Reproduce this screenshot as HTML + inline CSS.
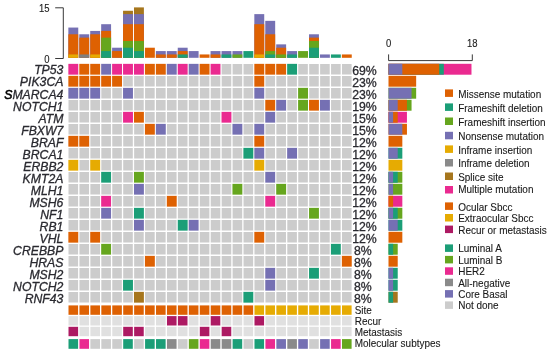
<!DOCTYPE html>
<html><head><meta charset="utf-8"><title>Oncoprint</title>
<style>
html,body{margin:0;padding:0;background:#fff;}
body{width:550px;height:355px;overflow:hidden;}
svg{display:block;}
text{font-family:"Liberation Sans",Arial,Helvetica,sans-serif;fill:#1a1a1a;}
.g{font-style:italic;font-size:12.25px;text-anchor:end;fill:#2a2a30;stroke:#2a2a30;stroke-width:0.3px;}
.p{font-size:12.3px;fill:#2a2a30;stroke:#2a2a30;stroke-width:0.3px;}
.a{font-size:9.97px;stroke:#1a1a1a;stroke-width:0.1px;}
.l{font-size:9.96px;stroke:#1a1a1a;stroke-width:0.1px;}
.t{font-size:9.5px;stroke:#1a1a1a;stroke-width:0.1px;}
</style></head>
<body>
<svg width="550" height="355" viewBox="0 0 550 355">
<rect width="550" height="355" fill="#fff"/>
<g fill="#CCCCCC">
<rect x="221.66" y="64.00" width="9.60" height="10.50"/><rect x="232.60" y="64.00" width="9.60" height="10.50"/><rect x="243.54" y="64.00" width="9.60" height="10.50"/><rect x="298.24" y="64.00" width="9.60" height="10.50"/><rect x="309.18" y="64.00" width="9.60" height="10.50"/><rect x="320.12" y="64.00" width="9.60" height="10.50"/><rect x="331.06" y="64.00" width="9.60" height="10.50"/><rect x="342.00" y="64.00" width="9.60" height="10.50"/>
<rect x="123.20" y="76.00" width="9.60" height="10.50"/><rect x="134.14" y="76.00" width="9.60" height="10.50"/><rect x="145.08" y="76.00" width="9.60" height="10.50"/><rect x="156.02" y="76.00" width="9.60" height="10.50"/><rect x="166.96" y="76.00" width="9.60" height="10.50"/><rect x="177.90" y="76.00" width="9.60" height="10.50"/><rect x="188.84" y="76.00" width="9.60" height="10.50"/><rect x="199.78" y="76.00" width="9.60" height="10.50"/><rect x="210.72" y="76.00" width="9.60" height="10.50"/><rect x="221.66" y="76.00" width="9.60" height="10.50"/><rect x="232.60" y="76.00" width="9.60" height="10.50"/><rect x="243.54" y="76.00" width="9.60" height="10.50"/><rect x="265.42" y="76.00" width="9.60" height="10.50"/><rect x="276.36" y="76.00" width="9.60" height="10.50"/><rect x="287.30" y="76.00" width="9.60" height="10.50"/><rect x="298.24" y="76.00" width="9.60" height="10.50"/><rect x="309.18" y="76.00" width="9.60" height="10.50"/><rect x="320.12" y="76.00" width="9.60" height="10.50"/><rect x="331.06" y="76.00" width="9.60" height="10.50"/><rect x="342.00" y="76.00" width="9.60" height="10.50"/>
<rect x="101.32" y="88.00" width="9.60" height="10.50"/><rect x="112.26" y="88.00" width="9.60" height="10.50"/><rect x="134.14" y="88.00" width="9.60" height="10.50"/><rect x="145.08" y="88.00" width="9.60" height="10.50"/><rect x="156.02" y="88.00" width="9.60" height="10.50"/><rect x="166.96" y="88.00" width="9.60" height="10.50"/><rect x="177.90" y="88.00" width="9.60" height="10.50"/><rect x="188.84" y="88.00" width="9.60" height="10.50"/><rect x="199.78" y="88.00" width="9.60" height="10.50"/><rect x="210.72" y="88.00" width="9.60" height="10.50"/><rect x="221.66" y="88.00" width="9.60" height="10.50"/><rect x="232.60" y="88.00" width="9.60" height="10.50"/><rect x="243.54" y="88.00" width="9.60" height="10.50"/><rect x="265.42" y="88.00" width="9.60" height="10.50"/><rect x="276.36" y="88.00" width="9.60" height="10.50"/><rect x="287.30" y="88.00" width="9.60" height="10.50"/><rect x="309.18" y="88.00" width="9.60" height="10.50"/><rect x="320.12" y="88.00" width="9.60" height="10.50"/><rect x="331.06" y="88.00" width="9.60" height="10.50"/><rect x="342.00" y="88.00" width="9.60" height="10.50"/>
<rect x="68.50" y="100.00" width="9.60" height="10.50"/><rect x="79.44" y="100.00" width="9.60" height="10.50"/><rect x="90.38" y="100.00" width="9.60" height="10.50"/><rect x="101.32" y="100.00" width="9.60" height="10.50"/><rect x="112.26" y="100.00" width="9.60" height="10.50"/><rect x="123.20" y="100.00" width="9.60" height="10.50"/><rect x="134.14" y="100.00" width="9.60" height="10.50"/><rect x="145.08" y="100.00" width="9.60" height="10.50"/><rect x="156.02" y="100.00" width="9.60" height="10.50"/><rect x="166.96" y="100.00" width="9.60" height="10.50"/><rect x="177.90" y="100.00" width="9.60" height="10.50"/><rect x="188.84" y="100.00" width="9.60" height="10.50"/><rect x="199.78" y="100.00" width="9.60" height="10.50"/><rect x="210.72" y="100.00" width="9.60" height="10.50"/><rect x="221.66" y="100.00" width="9.60" height="10.50"/><rect x="232.60" y="100.00" width="9.60" height="10.50"/><rect x="243.54" y="100.00" width="9.60" height="10.50"/><rect x="254.48" y="100.00" width="9.60" height="10.50"/><rect x="287.30" y="100.00" width="9.60" height="10.50"/><rect x="331.06" y="100.00" width="9.60" height="10.50"/><rect x="342.00" y="100.00" width="9.60" height="10.50"/>
<rect x="68.50" y="112.00" width="9.60" height="10.50"/><rect x="79.44" y="112.00" width="9.60" height="10.50"/><rect x="90.38" y="112.00" width="9.60" height="10.50"/><rect x="101.32" y="112.00" width="9.60" height="10.50"/><rect x="112.26" y="112.00" width="9.60" height="10.50"/><rect x="145.08" y="112.00" width="9.60" height="10.50"/><rect x="156.02" y="112.00" width="9.60" height="10.50"/><rect x="166.96" y="112.00" width="9.60" height="10.50"/><rect x="177.90" y="112.00" width="9.60" height="10.50"/><rect x="188.84" y="112.00" width="9.60" height="10.50"/><rect x="199.78" y="112.00" width="9.60" height="10.50"/><rect x="210.72" y="112.00" width="9.60" height="10.50"/><rect x="232.60" y="112.00" width="9.60" height="10.50"/><rect x="243.54" y="112.00" width="9.60" height="10.50"/><rect x="254.48" y="112.00" width="9.60" height="10.50"/><rect x="276.36" y="112.00" width="9.60" height="10.50"/><rect x="287.30" y="112.00" width="9.60" height="10.50"/><rect x="298.24" y="112.00" width="9.60" height="10.50"/><rect x="309.18" y="112.00" width="9.60" height="10.50"/><rect x="320.12" y="112.00" width="9.60" height="10.50"/><rect x="331.06" y="112.00" width="9.60" height="10.50"/><rect x="342.00" y="112.00" width="9.60" height="10.50"/>
<rect x="68.50" y="124.00" width="9.60" height="10.50"/><rect x="79.44" y="124.00" width="9.60" height="10.50"/><rect x="90.38" y="124.00" width="9.60" height="10.50"/><rect x="101.32" y="124.00" width="9.60" height="10.50"/><rect x="112.26" y="124.00" width="9.60" height="10.50"/><rect x="123.20" y="124.00" width="9.60" height="10.50"/><rect x="134.14" y="124.00" width="9.60" height="10.50"/><rect x="166.96" y="124.00" width="9.60" height="10.50"/><rect x="177.90" y="124.00" width="9.60" height="10.50"/><rect x="188.84" y="124.00" width="9.60" height="10.50"/><rect x="199.78" y="124.00" width="9.60" height="10.50"/><rect x="210.72" y="124.00" width="9.60" height="10.50"/><rect x="221.66" y="124.00" width="9.60" height="10.50"/><rect x="243.54" y="124.00" width="9.60" height="10.50"/><rect x="265.42" y="124.00" width="9.60" height="10.50"/><rect x="276.36" y="124.00" width="9.60" height="10.50"/><rect x="287.30" y="124.00" width="9.60" height="10.50"/><rect x="298.24" y="124.00" width="9.60" height="10.50"/><rect x="309.18" y="124.00" width="9.60" height="10.50"/><rect x="320.12" y="124.00" width="9.60" height="10.50"/><rect x="331.06" y="124.00" width="9.60" height="10.50"/><rect x="342.00" y="124.00" width="9.60" height="10.50"/>
<rect x="90.38" y="136.00" width="9.60" height="10.50"/><rect x="101.32" y="136.00" width="9.60" height="10.50"/><rect x="112.26" y="136.00" width="9.60" height="10.50"/><rect x="123.20" y="136.00" width="9.60" height="10.50"/><rect x="134.14" y="136.00" width="9.60" height="10.50"/><rect x="145.08" y="136.00" width="9.60" height="10.50"/><rect x="156.02" y="136.00" width="9.60" height="10.50"/><rect x="166.96" y="136.00" width="9.60" height="10.50"/><rect x="177.90" y="136.00" width="9.60" height="10.50"/><rect x="188.84" y="136.00" width="9.60" height="10.50"/><rect x="199.78" y="136.00" width="9.60" height="10.50"/><rect x="210.72" y="136.00" width="9.60" height="10.50"/><rect x="221.66" y="136.00" width="9.60" height="10.50"/><rect x="232.60" y="136.00" width="9.60" height="10.50"/><rect x="243.54" y="136.00" width="9.60" height="10.50"/><rect x="265.42" y="136.00" width="9.60" height="10.50"/><rect x="276.36" y="136.00" width="9.60" height="10.50"/><rect x="287.30" y="136.00" width="9.60" height="10.50"/><rect x="298.24" y="136.00" width="9.60" height="10.50"/><rect x="309.18" y="136.00" width="9.60" height="10.50"/><rect x="320.12" y="136.00" width="9.60" height="10.50"/><rect x="331.06" y="136.00" width="9.60" height="10.50"/><rect x="342.00" y="136.00" width="9.60" height="10.50"/>
<rect x="68.50" y="148.00" width="9.60" height="10.50"/><rect x="79.44" y="148.00" width="9.60" height="10.50"/><rect x="90.38" y="148.00" width="9.60" height="10.50"/><rect x="101.32" y="148.00" width="9.60" height="10.50"/><rect x="112.26" y="148.00" width="9.60" height="10.50"/><rect x="123.20" y="148.00" width="9.60" height="10.50"/><rect x="134.14" y="148.00" width="9.60" height="10.50"/><rect x="145.08" y="148.00" width="9.60" height="10.50"/><rect x="156.02" y="148.00" width="9.60" height="10.50"/><rect x="166.96" y="148.00" width="9.60" height="10.50"/><rect x="177.90" y="148.00" width="9.60" height="10.50"/><rect x="188.84" y="148.00" width="9.60" height="10.50"/><rect x="199.78" y="148.00" width="9.60" height="10.50"/><rect x="210.72" y="148.00" width="9.60" height="10.50"/><rect x="221.66" y="148.00" width="9.60" height="10.50"/><rect x="232.60" y="148.00" width="9.60" height="10.50"/><rect x="265.42" y="148.00" width="9.60" height="10.50"/><rect x="276.36" y="148.00" width="9.60" height="10.50"/><rect x="298.24" y="148.00" width="9.60" height="10.50"/><rect x="309.18" y="148.00" width="9.60" height="10.50"/><rect x="320.12" y="148.00" width="9.60" height="10.50"/><rect x="331.06" y="148.00" width="9.60" height="10.50"/><rect x="342.00" y="148.00" width="9.60" height="10.50"/>
<rect x="79.44" y="160.00" width="9.60" height="10.50"/><rect x="101.32" y="160.00" width="9.60" height="10.50"/><rect x="112.26" y="160.00" width="9.60" height="10.50"/><rect x="123.20" y="160.00" width="9.60" height="10.50"/><rect x="134.14" y="160.00" width="9.60" height="10.50"/><rect x="145.08" y="160.00" width="9.60" height="10.50"/><rect x="156.02" y="160.00" width="9.60" height="10.50"/><rect x="166.96" y="160.00" width="9.60" height="10.50"/><rect x="177.90" y="160.00" width="9.60" height="10.50"/><rect x="188.84" y="160.00" width="9.60" height="10.50"/><rect x="199.78" y="160.00" width="9.60" height="10.50"/><rect x="210.72" y="160.00" width="9.60" height="10.50"/><rect x="221.66" y="160.00" width="9.60" height="10.50"/><rect x="232.60" y="160.00" width="9.60" height="10.50"/><rect x="243.54" y="160.00" width="9.60" height="10.50"/><rect x="265.42" y="160.00" width="9.60" height="10.50"/><rect x="276.36" y="160.00" width="9.60" height="10.50"/><rect x="287.30" y="160.00" width="9.60" height="10.50"/><rect x="298.24" y="160.00" width="9.60" height="10.50"/><rect x="309.18" y="160.00" width="9.60" height="10.50"/><rect x="320.12" y="160.00" width="9.60" height="10.50"/><rect x="331.06" y="160.00" width="9.60" height="10.50"/><rect x="342.00" y="160.00" width="9.60" height="10.50"/>
<rect x="68.50" y="172.00" width="9.60" height="10.50"/><rect x="79.44" y="172.00" width="9.60" height="10.50"/><rect x="90.38" y="172.00" width="9.60" height="10.50"/><rect x="112.26" y="172.00" width="9.60" height="10.50"/><rect x="123.20" y="172.00" width="9.60" height="10.50"/><rect x="145.08" y="172.00" width="9.60" height="10.50"/><rect x="156.02" y="172.00" width="9.60" height="10.50"/><rect x="166.96" y="172.00" width="9.60" height="10.50"/><rect x="177.90" y="172.00" width="9.60" height="10.50"/><rect x="188.84" y="172.00" width="9.60" height="10.50"/><rect x="199.78" y="172.00" width="9.60" height="10.50"/><rect x="210.72" y="172.00" width="9.60" height="10.50"/><rect x="221.66" y="172.00" width="9.60" height="10.50"/><rect x="232.60" y="172.00" width="9.60" height="10.50"/><rect x="243.54" y="172.00" width="9.60" height="10.50"/><rect x="254.48" y="172.00" width="9.60" height="10.50"/><rect x="276.36" y="172.00" width="9.60" height="10.50"/><rect x="287.30" y="172.00" width="9.60" height="10.50"/><rect x="298.24" y="172.00" width="9.60" height="10.50"/><rect x="309.18" y="172.00" width="9.60" height="10.50"/><rect x="320.12" y="172.00" width="9.60" height="10.50"/><rect x="331.06" y="172.00" width="9.60" height="10.50"/><rect x="342.00" y="172.00" width="9.60" height="10.50"/>
<rect x="68.50" y="184.00" width="9.60" height="10.50"/><rect x="79.44" y="184.00" width="9.60" height="10.50"/><rect x="90.38" y="184.00" width="9.60" height="10.50"/><rect x="101.32" y="184.00" width="9.60" height="10.50"/><rect x="112.26" y="184.00" width="9.60" height="10.50"/><rect x="123.20" y="184.00" width="9.60" height="10.50"/><rect x="145.08" y="184.00" width="9.60" height="10.50"/><rect x="156.02" y="184.00" width="9.60" height="10.50"/><rect x="166.96" y="184.00" width="9.60" height="10.50"/><rect x="177.90" y="184.00" width="9.60" height="10.50"/><rect x="188.84" y="184.00" width="9.60" height="10.50"/><rect x="199.78" y="184.00" width="9.60" height="10.50"/><rect x="210.72" y="184.00" width="9.60" height="10.50"/><rect x="221.66" y="184.00" width="9.60" height="10.50"/><rect x="243.54" y="184.00" width="9.60" height="10.50"/><rect x="254.48" y="184.00" width="9.60" height="10.50"/><rect x="265.42" y="184.00" width="9.60" height="10.50"/><rect x="287.30" y="184.00" width="9.60" height="10.50"/><rect x="298.24" y="184.00" width="9.60" height="10.50"/><rect x="309.18" y="184.00" width="9.60" height="10.50"/><rect x="320.12" y="184.00" width="9.60" height="10.50"/><rect x="331.06" y="184.00" width="9.60" height="10.50"/><rect x="342.00" y="184.00" width="9.60" height="10.50"/>
<rect x="68.50" y="196.00" width="9.60" height="10.50"/><rect x="79.44" y="196.00" width="9.60" height="10.50"/><rect x="90.38" y="196.00" width="9.60" height="10.50"/><rect x="112.26" y="196.00" width="9.60" height="10.50"/><rect x="123.20" y="196.00" width="9.60" height="10.50"/><rect x="134.14" y="196.00" width="9.60" height="10.50"/><rect x="145.08" y="196.00" width="9.60" height="10.50"/><rect x="156.02" y="196.00" width="9.60" height="10.50"/><rect x="177.90" y="196.00" width="9.60" height="10.50"/><rect x="188.84" y="196.00" width="9.60" height="10.50"/><rect x="199.78" y="196.00" width="9.60" height="10.50"/><rect x="210.72" y="196.00" width="9.60" height="10.50"/><rect x="221.66" y="196.00" width="9.60" height="10.50"/><rect x="232.60" y="196.00" width="9.60" height="10.50"/><rect x="243.54" y="196.00" width="9.60" height="10.50"/><rect x="254.48" y="196.00" width="9.60" height="10.50"/><rect x="276.36" y="196.00" width="9.60" height="10.50"/><rect x="287.30" y="196.00" width="9.60" height="10.50"/><rect x="298.24" y="196.00" width="9.60" height="10.50"/><rect x="309.18" y="196.00" width="9.60" height="10.50"/><rect x="320.12" y="196.00" width="9.60" height="10.50"/><rect x="331.06" y="196.00" width="9.60" height="10.50"/><rect x="342.00" y="196.00" width="9.60" height="10.50"/>
<rect x="68.50" y="208.00" width="9.60" height="10.50"/><rect x="79.44" y="208.00" width="9.60" height="10.50"/><rect x="90.38" y="208.00" width="9.60" height="10.50"/><rect x="112.26" y="208.00" width="9.60" height="10.50"/><rect x="123.20" y="208.00" width="9.60" height="10.50"/><rect x="145.08" y="208.00" width="9.60" height="10.50"/><rect x="156.02" y="208.00" width="9.60" height="10.50"/><rect x="166.96" y="208.00" width="9.60" height="10.50"/><rect x="177.90" y="208.00" width="9.60" height="10.50"/><rect x="188.84" y="208.00" width="9.60" height="10.50"/><rect x="199.78" y="208.00" width="9.60" height="10.50"/><rect x="210.72" y="208.00" width="9.60" height="10.50"/><rect x="221.66" y="208.00" width="9.60" height="10.50"/><rect x="232.60" y="208.00" width="9.60" height="10.50"/><rect x="243.54" y="208.00" width="9.60" height="10.50"/><rect x="254.48" y="208.00" width="9.60" height="10.50"/><rect x="265.42" y="208.00" width="9.60" height="10.50"/><rect x="276.36" y="208.00" width="9.60" height="10.50"/><rect x="287.30" y="208.00" width="9.60" height="10.50"/><rect x="298.24" y="208.00" width="9.60" height="10.50"/><rect x="320.12" y="208.00" width="9.60" height="10.50"/><rect x="331.06" y="208.00" width="9.60" height="10.50"/><rect x="342.00" y="208.00" width="9.60" height="10.50"/>
<rect x="68.50" y="220.00" width="9.60" height="10.50"/><rect x="79.44" y="220.00" width="9.60" height="10.50"/><rect x="90.38" y="220.00" width="9.60" height="10.50"/><rect x="101.32" y="220.00" width="9.60" height="10.50"/><rect x="112.26" y="220.00" width="9.60" height="10.50"/><rect x="123.20" y="220.00" width="9.60" height="10.50"/><rect x="145.08" y="220.00" width="9.60" height="10.50"/><rect x="156.02" y="220.00" width="9.60" height="10.50"/><rect x="166.96" y="220.00" width="9.60" height="10.50"/><rect x="199.78" y="220.00" width="9.60" height="10.50"/><rect x="210.72" y="220.00" width="9.60" height="10.50"/><rect x="221.66" y="220.00" width="9.60" height="10.50"/><rect x="232.60" y="220.00" width="9.60" height="10.50"/><rect x="243.54" y="220.00" width="9.60" height="10.50"/><rect x="254.48" y="220.00" width="9.60" height="10.50"/><rect x="265.42" y="220.00" width="9.60" height="10.50"/><rect x="276.36" y="220.00" width="9.60" height="10.50"/><rect x="287.30" y="220.00" width="9.60" height="10.50"/><rect x="298.24" y="220.00" width="9.60" height="10.50"/><rect x="309.18" y="220.00" width="9.60" height="10.50"/><rect x="320.12" y="220.00" width="9.60" height="10.50"/><rect x="331.06" y="220.00" width="9.60" height="10.50"/><rect x="342.00" y="220.00" width="9.60" height="10.50"/>
<rect x="79.44" y="232.00" width="9.60" height="10.50"/><rect x="101.32" y="232.00" width="9.60" height="10.50"/><rect x="112.26" y="232.00" width="9.60" height="10.50"/><rect x="123.20" y="232.00" width="9.60" height="10.50"/><rect x="134.14" y="232.00" width="9.60" height="10.50"/><rect x="145.08" y="232.00" width="9.60" height="10.50"/><rect x="156.02" y="232.00" width="9.60" height="10.50"/><rect x="166.96" y="232.00" width="9.60" height="10.50"/><rect x="177.90" y="232.00" width="9.60" height="10.50"/><rect x="188.84" y="232.00" width="9.60" height="10.50"/><rect x="199.78" y="232.00" width="9.60" height="10.50"/><rect x="210.72" y="232.00" width="9.60" height="10.50"/><rect x="221.66" y="232.00" width="9.60" height="10.50"/><rect x="232.60" y="232.00" width="9.60" height="10.50"/><rect x="243.54" y="232.00" width="9.60" height="10.50"/><rect x="265.42" y="232.00" width="9.60" height="10.50"/><rect x="276.36" y="232.00" width="9.60" height="10.50"/><rect x="287.30" y="232.00" width="9.60" height="10.50"/><rect x="298.24" y="232.00" width="9.60" height="10.50"/><rect x="309.18" y="232.00" width="9.60" height="10.50"/><rect x="320.12" y="232.00" width="9.60" height="10.50"/><rect x="331.06" y="232.00" width="9.60" height="10.50"/><rect x="342.00" y="232.00" width="9.60" height="10.50"/>
<rect x="68.50" y="244.00" width="9.60" height="10.50"/><rect x="79.44" y="244.00" width="9.60" height="10.50"/><rect x="90.38" y="244.00" width="9.60" height="10.50"/><rect x="112.26" y="244.00" width="9.60" height="10.50"/><rect x="123.20" y="244.00" width="9.60" height="10.50"/><rect x="134.14" y="244.00" width="9.60" height="10.50"/><rect x="145.08" y="244.00" width="9.60" height="10.50"/><rect x="156.02" y="244.00" width="9.60" height="10.50"/><rect x="166.96" y="244.00" width="9.60" height="10.50"/><rect x="177.90" y="244.00" width="9.60" height="10.50"/><rect x="188.84" y="244.00" width="9.60" height="10.50"/><rect x="199.78" y="244.00" width="9.60" height="10.50"/><rect x="210.72" y="244.00" width="9.60" height="10.50"/><rect x="221.66" y="244.00" width="9.60" height="10.50"/><rect x="232.60" y="244.00" width="9.60" height="10.50"/><rect x="243.54" y="244.00" width="9.60" height="10.50"/><rect x="254.48" y="244.00" width="9.60" height="10.50"/><rect x="265.42" y="244.00" width="9.60" height="10.50"/><rect x="276.36" y="244.00" width="9.60" height="10.50"/><rect x="287.30" y="244.00" width="9.60" height="10.50"/><rect x="298.24" y="244.00" width="9.60" height="10.50"/><rect x="309.18" y="244.00" width="9.60" height="10.50"/><rect x="320.12" y="244.00" width="9.60" height="10.50"/><rect x="342.00" y="244.00" width="9.60" height="10.50"/>
<rect x="68.50" y="256.00" width="9.60" height="10.50"/><rect x="79.44" y="256.00" width="9.60" height="10.50"/><rect x="90.38" y="256.00" width="9.60" height="10.50"/><rect x="101.32" y="256.00" width="9.60" height="10.50"/><rect x="112.26" y="256.00" width="9.60" height="10.50"/><rect x="123.20" y="256.00" width="9.60" height="10.50"/><rect x="134.14" y="256.00" width="9.60" height="10.50"/><rect x="156.02" y="256.00" width="9.60" height="10.50"/><rect x="166.96" y="256.00" width="9.60" height="10.50"/><rect x="177.90" y="256.00" width="9.60" height="10.50"/><rect x="188.84" y="256.00" width="9.60" height="10.50"/><rect x="199.78" y="256.00" width="9.60" height="10.50"/><rect x="210.72" y="256.00" width="9.60" height="10.50"/><rect x="221.66" y="256.00" width="9.60" height="10.50"/><rect x="232.60" y="256.00" width="9.60" height="10.50"/><rect x="243.54" y="256.00" width="9.60" height="10.50"/><rect x="254.48" y="256.00" width="9.60" height="10.50"/><rect x="265.42" y="256.00" width="9.60" height="10.50"/><rect x="276.36" y="256.00" width="9.60" height="10.50"/><rect x="287.30" y="256.00" width="9.60" height="10.50"/><rect x="298.24" y="256.00" width="9.60" height="10.50"/><rect x="309.18" y="256.00" width="9.60" height="10.50"/><rect x="320.12" y="256.00" width="9.60" height="10.50"/><rect x="331.06" y="256.00" width="9.60" height="10.50"/>
<rect x="68.50" y="268.00" width="9.60" height="10.50"/><rect x="79.44" y="268.00" width="9.60" height="10.50"/><rect x="90.38" y="268.00" width="9.60" height="10.50"/><rect x="101.32" y="268.00" width="9.60" height="10.50"/><rect x="112.26" y="268.00" width="9.60" height="10.50"/><rect x="123.20" y="268.00" width="9.60" height="10.50"/><rect x="134.14" y="268.00" width="9.60" height="10.50"/><rect x="145.08" y="268.00" width="9.60" height="10.50"/><rect x="156.02" y="268.00" width="9.60" height="10.50"/><rect x="166.96" y="268.00" width="9.60" height="10.50"/><rect x="177.90" y="268.00" width="9.60" height="10.50"/><rect x="188.84" y="268.00" width="9.60" height="10.50"/><rect x="199.78" y="268.00" width="9.60" height="10.50"/><rect x="210.72" y="268.00" width="9.60" height="10.50"/><rect x="221.66" y="268.00" width="9.60" height="10.50"/><rect x="232.60" y="268.00" width="9.60" height="10.50"/><rect x="243.54" y="268.00" width="9.60" height="10.50"/><rect x="254.48" y="268.00" width="9.60" height="10.50"/><rect x="276.36" y="268.00" width="9.60" height="10.50"/><rect x="287.30" y="268.00" width="9.60" height="10.50"/><rect x="298.24" y="268.00" width="9.60" height="10.50"/><rect x="320.12" y="268.00" width="9.60" height="10.50"/><rect x="331.06" y="268.00" width="9.60" height="10.50"/><rect x="342.00" y="268.00" width="9.60" height="10.50"/>
<rect x="68.50" y="280.00" width="9.60" height="10.50"/><rect x="79.44" y="280.00" width="9.60" height="10.50"/><rect x="90.38" y="280.00" width="9.60" height="10.50"/><rect x="101.32" y="280.00" width="9.60" height="10.50"/><rect x="112.26" y="280.00" width="9.60" height="10.50"/><rect x="134.14" y="280.00" width="9.60" height="10.50"/><rect x="145.08" y="280.00" width="9.60" height="10.50"/><rect x="156.02" y="280.00" width="9.60" height="10.50"/><rect x="166.96" y="280.00" width="9.60" height="10.50"/><rect x="177.90" y="280.00" width="9.60" height="10.50"/><rect x="188.84" y="280.00" width="9.60" height="10.50"/><rect x="199.78" y="280.00" width="9.60" height="10.50"/><rect x="210.72" y="280.00" width="9.60" height="10.50"/><rect x="221.66" y="280.00" width="9.60" height="10.50"/><rect x="232.60" y="280.00" width="9.60" height="10.50"/><rect x="243.54" y="280.00" width="9.60" height="10.50"/><rect x="254.48" y="280.00" width="9.60" height="10.50"/><rect x="276.36" y="280.00" width="9.60" height="10.50"/><rect x="287.30" y="280.00" width="9.60" height="10.50"/><rect x="298.24" y="280.00" width="9.60" height="10.50"/><rect x="309.18" y="280.00" width="9.60" height="10.50"/><rect x="320.12" y="280.00" width="9.60" height="10.50"/><rect x="331.06" y="280.00" width="9.60" height="10.50"/><rect x="342.00" y="280.00" width="9.60" height="10.50"/>
<rect x="68.50" y="292.00" width="9.60" height="10.50"/><rect x="79.44" y="292.00" width="9.60" height="10.50"/><rect x="90.38" y="292.00" width="9.60" height="10.50"/><rect x="101.32" y="292.00" width="9.60" height="10.50"/><rect x="112.26" y="292.00" width="9.60" height="10.50"/><rect x="123.20" y="292.00" width="9.60" height="10.50"/><rect x="145.08" y="292.00" width="9.60" height="10.50"/><rect x="156.02" y="292.00" width="9.60" height="10.50"/><rect x="166.96" y="292.00" width="9.60" height="10.50"/><rect x="177.90" y="292.00" width="9.60" height="10.50"/><rect x="188.84" y="292.00" width="9.60" height="10.50"/><rect x="199.78" y="292.00" width="9.60" height="10.50"/><rect x="210.72" y="292.00" width="9.60" height="10.50"/><rect x="221.66" y="292.00" width="9.60" height="10.50"/><rect x="232.60" y="292.00" width="9.60" height="10.50"/><rect x="254.48" y="292.00" width="9.60" height="10.50"/><rect x="265.42" y="292.00" width="9.60" height="10.50"/><rect x="276.36" y="292.00" width="9.60" height="10.50"/><rect x="287.30" y="292.00" width="9.60" height="10.50"/><rect x="298.24" y="292.00" width="9.60" height="10.50"/><rect x="309.18" y="292.00" width="9.60" height="10.50"/><rect x="320.12" y="292.00" width="9.60" height="10.50"/><rect x="331.06" y="292.00" width="9.60" height="10.50"/><rect x="342.00" y="292.00" width="9.60" height="10.50"/>
</g>
<rect x="68.35" y="63.85" width="9.90" height="10.80" fill="#EA2A90"/><rect x="79.29" y="63.85" width="9.90" height="10.80" fill="#DE6102"/><rect x="90.23" y="63.85" width="9.90" height="10.80" fill="#DE6102"/><rect x="101.17" y="63.85" width="9.90" height="10.80" fill="#7570B3"/><rect x="112.11" y="63.85" width="9.90" height="10.80" fill="#EA2A90"/><rect x="123.05" y="63.85" width="9.90" height="10.80" fill="#EA2A90"/><rect x="133.99" y="63.85" width="9.90" height="10.80" fill="#EA2A90"/><rect x="144.93" y="63.85" width="9.90" height="10.80" fill="#DE6102"/><rect x="155.87" y="63.85" width="9.90" height="10.80" fill="#DE6102"/><rect x="166.81" y="63.85" width="9.90" height="10.80" fill="#7570B3"/><rect x="177.75" y="63.85" width="9.90" height="10.80" fill="#EA2A90"/><rect x="188.69" y="63.85" width="9.90" height="10.80" fill="#7570B3"/><rect x="199.63" y="63.85" width="9.90" height="10.80" fill="#DE6102"/><rect x="210.57" y="63.85" width="9.90" height="10.80" fill="#EA2A90"/><rect x="254.33" y="63.85" width="9.90" height="10.80" fill="#DE6102"/><rect x="265.27" y="63.85" width="9.90" height="10.80" fill="#DE6102"/><rect x="276.21" y="63.85" width="9.90" height="10.80" fill="#DE6102"/><rect x="287.15" y="63.85" width="9.90" height="10.80" fill="#1B9E77"/>
<rect x="68.35" y="75.85" width="9.90" height="10.80" fill="#DE6102"/><rect x="79.29" y="75.85" width="9.90" height="10.80" fill="#DE6102"/><rect x="90.23" y="75.85" width="9.90" height="10.80" fill="#DE6102"/><rect x="101.17" y="75.85" width="9.90" height="10.80" fill="#DE6102"/><rect x="112.11" y="75.85" width="9.90" height="10.80" fill="#DE6102"/><rect x="254.33" y="75.85" width="9.90" height="10.80" fill="#DE6102"/>
<rect x="68.35" y="87.85" width="9.90" height="10.80" fill="#7570B3"/><rect x="79.29" y="87.85" width="9.90" height="10.80" fill="#7570B3"/><rect x="90.23" y="87.85" width="9.90" height="10.80" fill="#7570B3"/><rect x="123.05" y="87.85" width="9.90" height="10.80" fill="#7570B3"/><rect x="254.33" y="87.85" width="9.90" height="10.80" fill="#7570B3"/><rect x="298.09" y="87.85" width="9.90" height="10.80" fill="#66A61E"/>
<rect x="265.27" y="99.85" width="9.90" height="10.80" fill="#DE6102"/><rect x="276.21" y="99.85" width="9.90" height="10.80" fill="#7570B3"/><rect x="298.09" y="99.85" width="9.90" height="10.80" fill="#66A61E"/><rect x="309.03" y="99.85" width="9.90" height="10.80" fill="#DE6102"/><rect x="319.97" y="99.85" width="9.90" height="10.80" fill="#7570B3"/>
<rect x="123.05" y="111.85" width="9.90" height="10.80" fill="#EA2A90"/><rect x="133.99" y="111.85" width="9.90" height="10.80" fill="#DE6102"/><rect x="221.51" y="111.85" width="9.90" height="10.80" fill="#EA2A90"/><rect x="265.27" y="111.85" width="9.90" height="10.80" fill="#7570B3"/>
<rect x="144.93" y="123.85" width="9.90" height="10.80" fill="#DE6102"/><rect x="155.87" y="123.85" width="9.90" height="10.80" fill="#7570B3"/><rect x="232.45" y="123.85" width="9.90" height="10.80" fill="#7570B3"/><rect x="254.33" y="123.85" width="9.90" height="10.80" fill="#7570B3"/>
<rect x="68.35" y="135.85" width="9.90" height="10.80" fill="#DE6102"/><rect x="79.29" y="135.85" width="9.90" height="10.80" fill="#DE6102"/><rect x="254.33" y="135.85" width="9.90" height="10.80" fill="#DE6102"/>
<rect x="243.39" y="147.85" width="9.90" height="10.80" fill="#1B9E77"/><rect x="254.33" y="147.85" width="9.90" height="10.80" fill="#7570B3"/><rect x="287.15" y="147.85" width="9.90" height="10.80" fill="#7570B3"/>
<rect x="68.35" y="159.85" width="9.90" height="10.80" fill="#E6AB02"/><rect x="90.23" y="159.85" width="9.90" height="10.80" fill="#E6AB02"/><rect x="254.33" y="159.85" width="9.90" height="10.80" fill="#E6AB02"/>
<rect x="101.17" y="171.85" width="9.90" height="10.80" fill="#1B9E77"/><rect x="133.99" y="171.85" width="9.90" height="10.80" fill="#66A61E"/><rect x="265.27" y="171.85" width="9.90" height="10.80" fill="#7570B3"/>
<rect x="133.99" y="183.85" width="9.90" height="10.80" fill="#7570B3"/><rect x="232.45" y="183.85" width="9.90" height="10.80" fill="#66A61E"/><rect x="276.21" y="183.85" width="9.90" height="10.80" fill="#66A61E"/>
<rect x="101.17" y="195.85" width="9.90" height="10.80" fill="#EA2A90"/><rect x="166.81" y="195.85" width="9.90" height="10.80" fill="#DE6102"/><rect x="265.27" y="195.85" width="9.90" height="10.80" fill="#EA2A90"/>
<rect x="101.17" y="207.85" width="9.90" height="10.80" fill="#7570B3"/><rect x="133.99" y="207.85" width="9.90" height="10.80" fill="#1B9E77"/><rect x="309.03" y="207.85" width="9.90" height="10.80" fill="#66A61E"/>
<rect x="133.99" y="219.85" width="9.90" height="10.80" fill="#7570B3"/><rect x="177.75" y="219.85" width="9.90" height="10.80" fill="#1B9E77"/><rect x="188.69" y="219.85" width="9.90" height="10.80" fill="#7570B3"/>
<rect x="68.35" y="231.85" width="9.90" height="10.80" fill="#DE6102"/><rect x="90.23" y="231.85" width="9.90" height="10.80" fill="#DE6102"/><rect x="254.33" y="231.85" width="9.90" height="10.80" fill="#DE6102"/>
<rect x="101.17" y="243.85" width="9.90" height="10.80" fill="#66A61E"/><rect x="330.91" y="243.85" width="9.90" height="10.80" fill="#1B9E77"/>
<rect x="144.93" y="255.85" width="9.90" height="10.80" fill="#DE6102"/><rect x="341.85" y="255.85" width="9.90" height="10.80" fill="#DE6102"/>
<rect x="265.27" y="267.85" width="9.90" height="10.80" fill="#7570B3"/><rect x="309.03" y="267.85" width="9.90" height="10.80" fill="#1B9E77"/>
<rect x="123.05" y="279.85" width="9.90" height="10.80" fill="#1B9E77"/><rect x="265.27" y="279.85" width="9.90" height="10.80" fill="#7570B3"/>
<rect x="133.99" y="291.85" width="9.90" height="10.80" fill="#A6761D"/><rect x="243.39" y="291.85" width="9.90" height="10.80" fill="#1B9E77"/>
<rect x="68.35" y="27.56" width="9.90" height="30.24" fill="#7570B3"/><rect x="68.35" y="34.28" width="9.90" height="23.52" fill="#DE6102"/><rect x="68.35" y="54.44" width="9.90" height="3.36" fill="#E6AB02"/>
<rect x="79.29" y="34.28" width="9.90" height="23.52" fill="#7570B3"/><rect x="79.29" y="37.64" width="9.90" height="20.16" fill="#DE6102"/><rect x="79.29" y="54.44" width="9.90" height="3.36" fill="#7f7f7f"/>
<rect x="90.23" y="30.92" width="9.90" height="26.88" fill="#7570B3"/><rect x="90.23" y="34.28" width="9.90" height="23.52" fill="#DE6102"/><rect x="90.23" y="54.44" width="9.90" height="3.36" fill="#E6AB02"/>
<rect x="101.17" y="24.20" width="9.90" height="33.60" fill="#7570B3"/><rect x="101.17" y="30.92" width="9.90" height="26.88" fill="#DE6102"/><rect x="101.17" y="37.64" width="9.90" height="20.16" fill="#66A61E"/><rect x="101.17" y="51.08" width="9.90" height="6.72" fill="#1B9E77"/>
<rect x="112.11" y="47.72" width="9.90" height="10.08" fill="#7570B3"/><rect x="112.11" y="51.08" width="9.90" height="6.72" fill="#DE6102"/>
<rect x="123.05" y="10.76" width="9.90" height="47.04" fill="#A6761D"/><rect x="123.05" y="14.12" width="9.90" height="43.68" fill="#7570B3"/><rect x="123.05" y="24.20" width="9.90" height="33.60" fill="#DE6102"/><rect x="123.05" y="41.00" width="9.90" height="16.80" fill="#66A61E"/><rect x="123.05" y="47.72" width="9.90" height="10.08" fill="#1B9E77"/>
<rect x="133.99" y="7.40" width="9.90" height="50.40" fill="#A6761D"/><rect x="133.99" y="14.12" width="9.90" height="43.68" fill="#7570B3"/><rect x="133.99" y="24.20" width="9.90" height="33.60" fill="#DE6102"/><rect x="133.99" y="41.00" width="9.90" height="16.80" fill="#66A61E"/><rect x="133.99" y="51.08" width="9.90" height="6.72" fill="#1B9E77"/>
<rect x="144.93" y="47.72" width="9.90" height="10.08" fill="#DE6102"/>
<rect x="155.87" y="51.08" width="9.90" height="6.72" fill="#7570B3"/><rect x="155.87" y="54.44" width="9.90" height="3.36" fill="#DE6102"/>
<rect x="166.81" y="51.08" width="9.90" height="6.72" fill="#7570B3"/><rect x="166.81" y="54.44" width="9.90" height="3.36" fill="#DE6102"/>
<rect x="177.75" y="47.72" width="9.90" height="10.08" fill="#7570B3"/><rect x="177.75" y="51.08" width="9.90" height="6.72" fill="#DE6102"/><rect x="177.75" y="54.44" width="9.90" height="3.36" fill="#1B9E77"/>
<rect x="188.69" y="51.08" width="9.90" height="6.72" fill="#7570B3"/>
<rect x="199.63" y="54.44" width="9.90" height="3.36" fill="#DE6102"/>
<rect x="210.57" y="51.08" width="9.90" height="6.72" fill="#7570B3"/><rect x="210.57" y="54.44" width="9.90" height="3.36" fill="#DE6102"/>
<rect x="221.51" y="51.08" width="9.90" height="6.72" fill="#7570B3"/><rect x="221.51" y="54.44" width="9.90" height="3.36" fill="#1B9E77"/>
<rect x="232.45" y="51.08" width="9.90" height="6.72" fill="#7570B3"/><rect x="232.45" y="54.44" width="9.90" height="3.36" fill="#66A61E"/>
<rect x="243.39" y="51.08" width="9.90" height="6.72" fill="#1B9E77"/>
<rect x="254.33" y="14.12" width="9.90" height="43.68" fill="#7570B3"/><rect x="254.33" y="24.20" width="9.90" height="33.60" fill="#DE6102"/><rect x="254.33" y="54.44" width="9.90" height="3.36" fill="#E6AB02"/>
<rect x="265.27" y="20.84" width="9.90" height="36.96" fill="#7570B3"/><rect x="265.27" y="34.28" width="9.90" height="23.52" fill="#DE6102"/><rect x="265.27" y="51.08" width="9.90" height="6.72" fill="#66A61E"/><rect x="265.27" y="54.44" width="9.90" height="3.36" fill="#1B9E77"/>
<rect x="276.21" y="44.36" width="9.90" height="13.44" fill="#7570B3"/><rect x="276.21" y="47.72" width="9.90" height="10.08" fill="#DE6102"/><rect x="276.21" y="54.44" width="9.90" height="3.36" fill="#66A61E"/>
<rect x="287.15" y="51.08" width="9.90" height="6.72" fill="#7570B3"/><rect x="287.15" y="54.44" width="9.90" height="3.36" fill="#1B9E77"/>
<rect x="298.09" y="51.08" width="9.90" height="6.72" fill="#66A61E"/>
<rect x="309.03" y="34.28" width="9.90" height="23.52" fill="#7570B3"/><rect x="309.03" y="37.64" width="9.90" height="20.16" fill="#DE6102"/><rect x="309.03" y="41.00" width="9.90" height="16.80" fill="#66A61E"/><rect x="309.03" y="47.72" width="9.90" height="10.08" fill="#1B9E77"/>
<rect x="319.97" y="54.44" width="9.90" height="3.36" fill="#7570B3"/>
<rect x="330.91" y="54.44" width="9.90" height="3.36" fill="#1B9E77"/>
<rect x="341.85" y="54.44" width="9.90" height="3.36" fill="#DE6102"/>
<path d="M55.2 7.8H63.3V58.5H55.2" fill="none" stroke="#222" stroke-width="0.9"/>
<text class="t" transform="translate(49.6,12.2) scale(1,1.22)" text-anchor="end">15</text>
<text class="t" transform="translate(49.6,62.9) scale(1,1.22)" text-anchor="end">0</text>
<rect x="68.50" y="305.40" width="9.60" height="9.40" fill="#DE6102"/><rect x="68.50" y="316.10" width="9.60" height="9.40" fill="#E0E0E0"/><rect x="68.50" y="326.80" width="9.60" height="9.40" fill="#AD1A63"/><rect x="68.50" y="339.10" width="9.60" height="9.70" fill="#1B9E77"/>
<rect x="79.44" y="305.40" width="9.60" height="9.40" fill="#DE6102"/><rect x="79.44" y="316.10" width="9.60" height="9.40" fill="#E0E0E0"/><rect x="79.44" y="326.80" width="9.60" height="9.40" fill="#E0E0E0"/><rect x="79.44" y="339.10" width="9.60" height="9.70" fill="#EA2A90"/>
<rect x="90.38" y="305.40" width="9.60" height="9.40" fill="#DE6102"/><rect x="90.38" y="316.10" width="9.60" height="9.40" fill="#E0E0E0"/><rect x="90.38" y="326.80" width="9.60" height="9.40" fill="#E0E0E0"/><rect x="90.38" y="339.10" width="9.60" height="9.70" fill="#CCCCCC"/>
<rect x="101.32" y="305.40" width="9.60" height="9.40" fill="#DE6102"/><rect x="101.32" y="316.10" width="9.60" height="9.40" fill="#E0E0E0"/><rect x="101.32" y="326.80" width="9.60" height="9.40" fill="#E0E0E0"/><rect x="101.32" y="339.10" width="9.60" height="9.70" fill="#CCCCCC"/>
<rect x="112.26" y="305.40" width="9.60" height="9.40" fill="#DE6102"/><rect x="112.26" y="316.10" width="9.60" height="9.40" fill="#E0E0E0"/><rect x="112.26" y="326.80" width="9.60" height="9.40" fill="#E0E0E0"/><rect x="112.26" y="339.10" width="9.60" height="9.70" fill="#CCCCCC"/>
<rect x="123.20" y="305.40" width="9.60" height="9.40" fill="#DE6102"/><rect x="123.20" y="316.10" width="9.60" height="9.40" fill="#E0E0E0"/><rect x="123.20" y="326.80" width="9.60" height="9.40" fill="#AD1A63"/><rect x="123.20" y="339.10" width="9.60" height="9.70" fill="#1B9E77"/>
<rect x="134.14" y="305.40" width="9.60" height="9.40" fill="#DE6102"/><rect x="134.14" y="316.10" width="9.60" height="9.40" fill="#E0E0E0"/><rect x="134.14" y="326.80" width="9.60" height="9.40" fill="#AD1A63"/><rect x="134.14" y="339.10" width="9.60" height="9.70" fill="#CCCCCC"/>
<rect x="145.08" y="305.40" width="9.60" height="9.40" fill="#DE6102"/><rect x="145.08" y="316.10" width="9.60" height="9.40" fill="#E0E0E0"/><rect x="145.08" y="326.80" width="9.60" height="9.40" fill="#E0E0E0"/><rect x="145.08" y="339.10" width="9.60" height="9.70" fill="#1B9E77"/>
<rect x="156.02" y="305.40" width="9.60" height="9.40" fill="#DE6102"/><rect x="156.02" y="316.10" width="9.60" height="9.40" fill="#E0E0E0"/><rect x="156.02" y="326.80" width="9.60" height="9.40" fill="#E0E0E0"/><rect x="156.02" y="339.10" width="9.60" height="9.70" fill="#1B9E77"/>
<rect x="166.96" y="305.40" width="9.60" height="9.40" fill="#DE6102"/><rect x="166.96" y="316.10" width="9.60" height="9.40" fill="#AD1A63"/><rect x="166.96" y="326.80" width="9.60" height="9.40" fill="#E0E0E0"/><rect x="166.96" y="339.10" width="9.60" height="9.70" fill="#8a8a8a"/>
<rect x="177.90" y="305.40" width="9.60" height="9.40" fill="#DE6102"/><rect x="177.90" y="316.10" width="9.60" height="9.40" fill="#AD1A63"/><rect x="177.90" y="326.80" width="9.60" height="9.40" fill="#E0E0E0"/><rect x="177.90" y="339.10" width="9.60" height="9.70" fill="#CCCCCC"/>
<rect x="188.84" y="305.40" width="9.60" height="9.40" fill="#DE6102"/><rect x="188.84" y="316.10" width="9.60" height="9.40" fill="#E0E0E0"/><rect x="188.84" y="326.80" width="9.60" height="9.40" fill="#E0E0E0"/><rect x="188.84" y="339.10" width="9.60" height="9.70" fill="#66A61E"/>
<rect x="199.78" y="305.40" width="9.60" height="9.40" fill="#DE6102"/><rect x="199.78" y="316.10" width="9.60" height="9.40" fill="#E0E0E0"/><rect x="199.78" y="326.80" width="9.60" height="9.40" fill="#AD1A63"/><rect x="199.78" y="339.10" width="9.60" height="9.70" fill="#EA2A90"/>
<rect x="210.72" y="305.40" width="9.60" height="9.40" fill="#DE6102"/><rect x="210.72" y="316.10" width="9.60" height="9.40" fill="#AD1A63"/><rect x="210.72" y="326.80" width="9.60" height="9.40" fill="#E0E0E0"/><rect x="210.72" y="339.10" width="9.60" height="9.70" fill="#8a8a8a"/>
<rect x="221.66" y="305.40" width="9.60" height="9.40" fill="#DE6102"/><rect x="221.66" y="316.10" width="9.60" height="9.40" fill="#E0E0E0"/><rect x="221.66" y="326.80" width="9.60" height="9.40" fill="#AD1A63"/><rect x="221.66" y="339.10" width="9.60" height="9.70" fill="#8a8a8a"/>
<rect x="232.60" y="305.40" width="9.60" height="9.40" fill="#DE6102"/><rect x="232.60" y="316.10" width="9.60" height="9.40" fill="#E0E0E0"/><rect x="232.60" y="326.80" width="9.60" height="9.40" fill="#E0E0E0"/><rect x="232.60" y="339.10" width="9.60" height="9.70" fill="#1B9E77"/>
<rect x="243.54" y="305.40" width="9.60" height="9.40" fill="#DE6102"/><rect x="243.54" y="316.10" width="9.60" height="9.40" fill="#E0E0E0"/><rect x="243.54" y="326.80" width="9.60" height="9.40" fill="#E0E0E0"/><rect x="243.54" y="339.10" width="9.60" height="9.70" fill="#CCCCCC"/>
<rect x="254.48" y="305.40" width="9.60" height="9.40" fill="#E6AB02"/><rect x="254.48" y="316.10" width="9.60" height="9.40" fill="#AD1A63"/><rect x="254.48" y="326.80" width="9.60" height="9.40" fill="#E0E0E0"/><rect x="254.48" y="339.10" width="9.60" height="9.70" fill="#1B9E77"/>
<rect x="265.42" y="305.40" width="9.60" height="9.40" fill="#E6AB02"/><rect x="265.42" y="316.10" width="9.60" height="9.40" fill="#E0E0E0"/><rect x="265.42" y="326.80" width="9.60" height="9.40" fill="#E0E0E0"/><rect x="265.42" y="339.10" width="9.60" height="9.70" fill="#EA2A90"/>
<rect x="276.36" y="305.40" width="9.60" height="9.40" fill="#E6AB02"/><rect x="276.36" y="316.10" width="9.60" height="9.40" fill="#E0E0E0"/><rect x="276.36" y="326.80" width="9.60" height="9.40" fill="#E0E0E0"/><rect x="276.36" y="339.10" width="9.60" height="9.70" fill="#7570B3"/>
<rect x="287.30" y="305.40" width="9.60" height="9.40" fill="#E6AB02"/><rect x="287.30" y="316.10" width="9.60" height="9.40" fill="#E0E0E0"/><rect x="287.30" y="326.80" width="9.60" height="9.40" fill="#E0E0E0"/><rect x="287.30" y="339.10" width="9.60" height="9.70" fill="#8a8a8a"/>
<rect x="298.24" y="305.40" width="9.60" height="9.40" fill="#E6AB02"/><rect x="298.24" y="316.10" width="9.60" height="9.40" fill="#E0E0E0"/><rect x="298.24" y="326.80" width="9.60" height="9.40" fill="#E0E0E0"/><rect x="298.24" y="339.10" width="9.60" height="9.70" fill="#7570B3"/>
<rect x="309.18" y="305.40" width="9.60" height="9.40" fill="#E6AB02"/><rect x="309.18" y="316.10" width="9.60" height="9.40" fill="#E0E0E0"/><rect x="309.18" y="326.80" width="9.60" height="9.40" fill="#E0E0E0"/><rect x="309.18" y="339.10" width="9.60" height="9.70" fill="#CCCCCC"/>
<rect x="320.12" y="305.40" width="9.60" height="9.40" fill="#E6AB02"/><rect x="320.12" y="316.10" width="9.60" height="9.40" fill="#E0E0E0"/><rect x="320.12" y="326.80" width="9.60" height="9.40" fill="#E0E0E0"/><rect x="320.12" y="339.10" width="9.60" height="9.70" fill="#7570B3"/>
<rect x="331.06" y="305.40" width="9.60" height="9.40" fill="#E6AB02"/><rect x="331.06" y="316.10" width="9.60" height="9.40" fill="#E0E0E0"/><rect x="331.06" y="326.80" width="9.60" height="9.40" fill="#E0E0E0"/><rect x="331.06" y="339.10" width="9.60" height="9.70" fill="#EA2A90"/>
<rect x="342.00" y="305.40" width="9.60" height="9.40" fill="#E6AB02"/><rect x="342.00" y="316.10" width="9.60" height="9.40" fill="#E0E0E0"/><rect x="342.00" y="326.80" width="9.60" height="9.40" fill="#E0E0E0"/><rect x="342.00" y="339.10" width="9.60" height="9.70" fill="#66A61E"/>
<text class="a" transform="translate(354.7,314.3) scale(1,1.08)">Site</text>
<text class="a" transform="translate(354.7,325.3) scale(1,1.08)">Recur</text>
<text class="a" transform="translate(354.7,336.4) scale(1,1.08)">Metastasis</text>
<text class="a" transform="translate(354.7,347.3) scale(1,1.08)">Molecular subtypes</text>
<text class="g" transform="translate(63.4,74.4) scale(1,1.04)">TP53</text><text class="p" transform="translate(352.2,74.6) scale(1,1.03)">69%</text>
<text class="g" transform="translate(63.4,86.4) scale(1,1.04)">PIK3CA</text><text class="p" transform="translate(352.2,86.6) scale(1,1.03)">23%</text>
<text class="g" transform="translate(63.4,98.5) scale(1,1.04)"><tspan fill="#000" stroke="#000" stroke-width="0.55">S</tspan>MARCA4</text><text class="p" transform="translate(352.2,98.7) scale(1,1.03)">23%</text>
<text class="g" transform="translate(63.4,110.5) scale(1,1.04)">NOTCH1</text><text class="p" transform="translate(352.2,110.7) scale(1,1.03)">19%</text>
<text class="g" transform="translate(63.4,122.5) scale(1,1.04)">ATM</text><text class="p" transform="translate(352.2,122.7) scale(1,1.03)">15%</text>
<text class="g" transform="translate(63.4,134.6) scale(1,1.04)">FBXW7</text><text class="p" transform="translate(352.2,134.8) scale(1,1.03)">15%</text>
<text class="g" transform="translate(63.4,146.6) scale(1,1.04)">BRAF</text><text class="p" transform="translate(352.2,146.8) scale(1,1.03)">12%</text>
<text class="g" transform="translate(63.4,158.6) scale(1,1.04)">BRCA1</text><text class="p" transform="translate(352.2,158.8) scale(1,1.03)">12%</text>
<text class="g" transform="translate(63.4,170.6) scale(1,1.04)">ERBB2</text><text class="p" transform="translate(352.2,170.8) scale(1,1.03)">12%</text>
<text class="g" transform="translate(63.4,182.7) scale(1,1.04)">KMT2A</text><text class="p" transform="translate(352.2,182.9) scale(1,1.03)">12%</text>
<text class="g" transform="translate(63.4,194.7) scale(1,1.04)">MLH1</text><text class="p" transform="translate(352.2,194.9) scale(1,1.03)">12%</text>
<text class="g" transform="translate(63.4,206.7) scale(1,1.04)">MSH6</text><text class="p" transform="translate(352.2,206.9) scale(1,1.03)">12%</text>
<text class="g" transform="translate(63.4,218.8) scale(1,1.04)">NF1</text><text class="p" transform="translate(352.2,219.0) scale(1,1.03)">12%</text>
<text class="g" transform="translate(63.4,230.8) scale(1,1.04)">RB1</text><text class="p" transform="translate(352.2,231.0) scale(1,1.03)">12%</text>
<text class="g" transform="translate(63.4,242.8) scale(1,1.04)">VHL</text><text class="p" transform="translate(352.2,243.0) scale(1,1.03)">12%</text>
<text class="g" transform="translate(63.4,254.8) scale(1,1.04)">CREBBP</text><text class="p" transform="translate(353.9,255.0) scale(1,1.03)">8%</text>
<text class="g" transform="translate(63.4,266.9) scale(1,1.04)">HRAS</text><text class="p" transform="translate(353.9,267.1) scale(1,1.03)">8%</text>
<text class="g" transform="translate(63.4,278.9) scale(1,1.04)">MSH2</text><text class="p" transform="translate(353.9,279.1) scale(1,1.03)">8%</text>
<text class="g" transform="translate(63.4,290.9) scale(1,1.04)">NOTCH2</text><text class="p" transform="translate(353.9,291.1) scale(1,1.03)">8%</text>
<text class="g" transform="translate(63.4,303.0) scale(1,1.04)">RNF43</text><text class="p" transform="translate(353.9,303.2) scale(1,1.03)">8%</text>
<rect x="388.50" y="63.80" width="82.98" height="10.90" fill="#EA2A90"/><rect x="388.50" y="63.80" width="55.32" height="10.90" fill="#1B9E77"/><rect x="388.50" y="63.80" width="50.71" height="10.90" fill="#DE6102"/><rect x="388.50" y="63.80" width="13.83" height="10.90" fill="#7570B3"/>
<rect x="388.50" y="75.80" width="27.66" height="10.90" fill="#DE6102"/>
<rect x="388.50" y="87.80" width="27.66" height="10.90" fill="#66A61E"/><rect x="388.50" y="87.80" width="23.05" height="10.90" fill="#7570B3"/>
<rect x="388.50" y="99.80" width="23.05" height="10.90" fill="#66A61E"/><rect x="388.50" y="99.80" width="18.44" height="10.90" fill="#DE6102"/><rect x="388.50" y="99.80" width="9.22" height="10.90" fill="#7570B3"/>
<rect x="388.50" y="111.80" width="18.44" height="10.90" fill="#EA2A90"/><rect x="388.50" y="111.80" width="9.22" height="10.90" fill="#DE6102"/><rect x="388.50" y="111.80" width="4.61" height="10.90" fill="#7570B3"/>
<rect x="388.50" y="123.80" width="18.44" height="10.90" fill="#DE6102"/><rect x="388.50" y="123.80" width="13.83" height="10.90" fill="#7570B3"/>
<rect x="388.50" y="135.80" width="13.83" height="10.90" fill="#DE6102"/>
<rect x="388.50" y="147.80" width="13.83" height="10.90" fill="#1B9E77"/><rect x="388.50" y="147.80" width="9.22" height="10.90" fill="#7570B3"/>
<rect x="388.50" y="159.80" width="13.83" height="10.90" fill="#E6AB02"/>
<rect x="388.50" y="171.80" width="13.83" height="10.90" fill="#66A61E"/><rect x="388.50" y="171.80" width="9.22" height="10.90" fill="#1B9E77"/><rect x="388.50" y="171.80" width="4.61" height="10.90" fill="#7570B3"/>
<rect x="388.50" y="183.80" width="13.83" height="10.90" fill="#66A61E"/><rect x="388.50" y="183.80" width="4.61" height="10.90" fill="#7570B3"/>
<rect x="388.50" y="195.80" width="13.83" height="10.90" fill="#EA2A90"/><rect x="388.50" y="195.80" width="4.61" height="10.90" fill="#DE6102"/>
<rect x="388.50" y="207.80" width="13.83" height="10.90" fill="#66A61E"/><rect x="388.50" y="207.80" width="9.22" height="10.90" fill="#1B9E77"/><rect x="388.50" y="207.80" width="4.61" height="10.90" fill="#7570B3"/>
<rect x="388.50" y="219.80" width="13.83" height="10.90" fill="#1B9E77"/><rect x="388.50" y="219.80" width="9.22" height="10.90" fill="#7570B3"/>
<rect x="388.50" y="231.80" width="13.83" height="10.90" fill="#DE6102"/>
<rect x="388.50" y="243.80" width="9.22" height="10.90" fill="#66A61E"/><rect x="388.50" y="243.80" width="4.61" height="10.90" fill="#1B9E77"/>
<rect x="388.50" y="255.80" width="9.22" height="10.90" fill="#DE6102"/>
<rect x="388.50" y="267.80" width="9.22" height="10.90" fill="#1B9E77"/><rect x="388.50" y="267.80" width="4.61" height="10.90" fill="#7570B3"/>
<rect x="388.50" y="279.80" width="9.22" height="10.90" fill="#1B9E77"/><rect x="388.50" y="279.80" width="4.61" height="10.90" fill="#7570B3"/>
<rect x="388.50" y="291.80" width="9.22" height="10.90" fill="#A6761D"/><rect x="388.50" y="291.80" width="4.61" height="10.90" fill="#1B9E77"/>
<path d="M388.6 54.4V60.6H472.3V54.4" fill="none" stroke="#222" stroke-width="0.9"/>
<text class="t" transform="translate(388.6,46.8) scale(1,1.15)" text-anchor="middle">0</text>
<text class="t" transform="translate(472.3,46.8) scale(1,1.15)" text-anchor="middle">18</text>
<rect x="445.0" y="89.40" width="8.0" height="7.5" fill="#DE6102"/><text class="l" transform="translate(458.2,97.6) scale(1,1.08)">Missense mutation</text>
<rect x="445.0" y="103.40" width="8.0" height="7.5" fill="#1B9E77"/><text class="l" transform="translate(458.2,111.6) scale(1,1.08)">Frameshift deletion</text>
<rect x="445.0" y="117.50" width="8.0" height="7.5" fill="#66A61E"/><text class="l" transform="translate(458.2,125.7) scale(1,1.08)">Frameshift insertion</text>
<rect x="445.0" y="131.80" width="8.0" height="7.5" fill="#7570B3"/><text class="l" transform="translate(458.2,140.0) scale(1,1.08)">Nonsense mutation</text>
<rect x="445.0" y="145.40" width="8.0" height="7.5" fill="#E6AB02"/><text class="l" transform="translate(458.2,153.6) scale(1,1.08)">Inframe insertion</text>
<rect x="445.0" y="159.00" width="8.0" height="7.5" fill="#8a8a8a"/><text class="l" transform="translate(458.2,167.2) scale(1,1.08)">Inframe deletion</text>
<rect x="445.0" y="172.50" width="8.0" height="7.5" fill="#A6761D"/><text class="l" transform="translate(458.2,180.7) scale(1,1.08)">Splice site</text>
<rect x="445.0" y="186.00" width="8.0" height="7.5" fill="#EA2A90"/><text class="l" transform="translate(458.2,193.3) scale(1,1.08)">Multiple mutation</text>
<rect x="445.0" y="202.40" width="8.0" height="7.5" fill="#DE6102"/><text class="l" transform="translate(458.2,210.6) scale(1,1.08)">Ocular Sbcc</text>
<rect x="445.0" y="214.00" width="8.0" height="7.5" fill="#E6AB02"/><text class="l" transform="translate(458.2,222.2) scale(1,1.08)">Extraocular Sbcc</text>
<rect x="445.0" y="225.60" width="8.0" height="7.5" fill="#AD1A63"/><text class="l" transform="translate(458.2,233.8) scale(1,1.08)">Recur or metastasis</text>
<rect x="445.0" y="244.40" width="8.0" height="7.5" fill="#1B9E77"/><text class="l" transform="translate(458.2,252.3) scale(1,1.08)">Luminal A</text>
<rect x="445.0" y="255.90" width="8.0" height="7.5" fill="#66A61E"/><text class="l" transform="translate(458.2,263.8) scale(1,1.08)">Luminal B</text>
<rect x="445.0" y="267.30" width="8.0" height="7.5" fill="#EA2A90"/><text class="l" transform="translate(458.2,275.2) scale(1,1.08)">HER2</text>
<rect x="445.0" y="278.70" width="8.0" height="7.5" fill="#8a8a8a"/><text class="l" transform="translate(458.2,286.6) scale(1,1.08)">All-negative</text>
<rect x="445.0" y="290.10" width="8.0" height="7.5" fill="#7570B3"/><text class="l" transform="translate(458.2,298.0) scale(1,1.08)">Core Basal</text>
<rect x="445.0" y="301.40" width="8.0" height="7.5" fill="#CCCCCC"/><text class="l" transform="translate(458.2,309.3) scale(1,1.08)">Not done</text>
</svg>
</body></html>
